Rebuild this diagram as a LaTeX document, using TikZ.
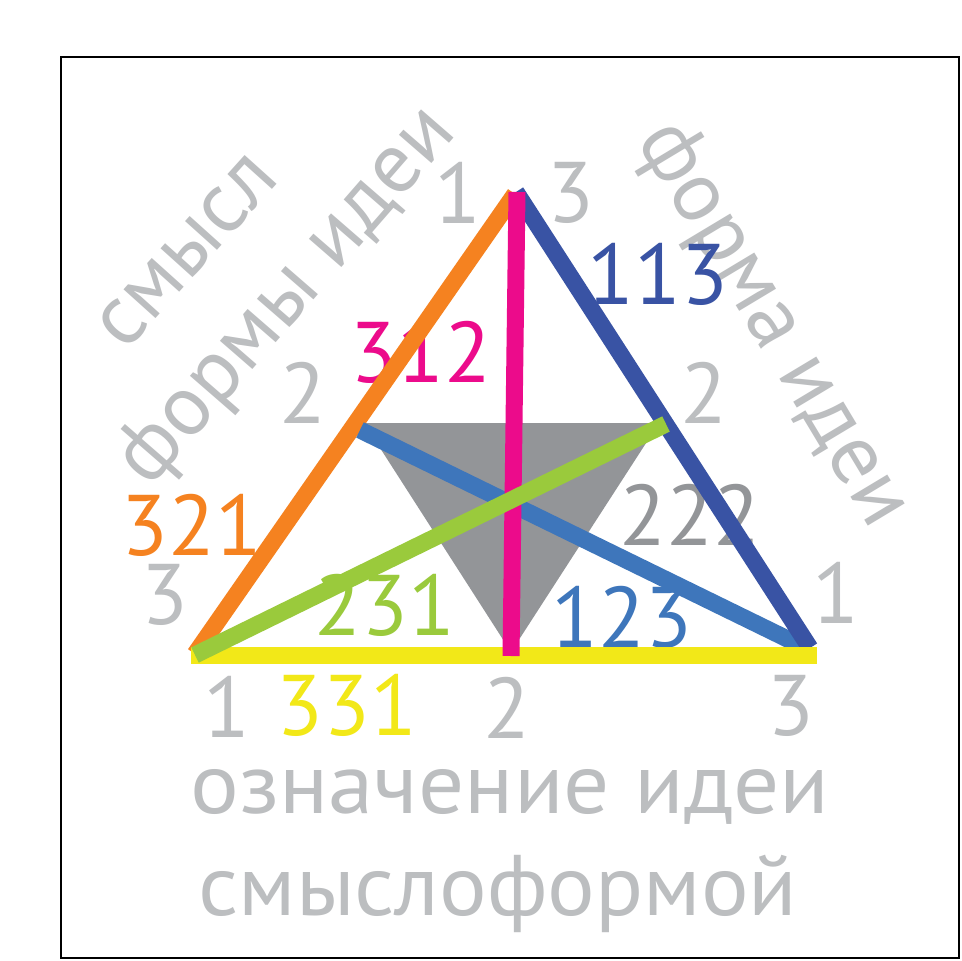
\documentclass[tikz,border=0pt]{standalone}
\usepackage{fontspec}
\setmainfont{PT Sans}
\newfontfamily\widefontA[FakeStretch=1.06]{PT Sans}
\newfontfamily\widefontB[FakeStretch=1.035]{PT Sans}
\definecolor{lgray}{HTML}{BCBEC0}
\definecolor{dgray}{HTML}{939598}
\definecolor{cOrange}{HTML}{F58220}
\definecolor{cDblue}{HTML}{3953A4}
\definecolor{cLblue}{HTML}{3E76BB}
\definecolor{cMag}{HTML}{EC0B8B}
\definecolor{cGreen}{HTML}{9ACA3C}
\definecolor{cYellow}{HTML}{F2E818}
\tikzset{
  big/.style={font=\fontsize{86}{86}\selectfont, inner sep=0pt},
  lab/.style={big, text=lgray, anchor=center},
  seg/.style={line width=17pt, line cap=butt},
  word/.style={big, text=lgray, anchor=base},
  wordA/.style={font=\widefontA\fontsize{86}{86}\selectfont, inner sep=0pt, text=lgray, anchor=base},
  wordB/.style={font=\widefontB\fontsize{86}{86}\selectfont, inner sep=0pt, text=lgray, anchor=base},
}
\begin{document}
\begin{tikzpicture}[x=1pt,y=-1pt]
\useasboundingbox (0,0) rectangle (962,961);
\fill[white] (0,0) rectangle (962,961);
\draw[line width=2pt] (61,57) rectangle (959,958);

% rotated words
\node[word, rotate=48] (w1) at (203,266) {смысл};
\node[word, rotate=49] (w2) at (304,311) {формы идеи};
\node[word, rotate=-59] (w3) at (754,336) {форма идеи};
\node[wordA] (w4) at (510,813) {означение идеи};
\node[wordB] (w5) at (498,915) {смыслоформой};

% vertex labels
\node[lab] (l1) at (458,193) {1};
\node[lab] (l2) at (571,193) {3};
\node[lab] (l3) at (303,393) {2};
\node[lab] (l4) at (704,393) {2};
\node[lab] (l5) at (165,595) {3};
\node[lab] (l6) at (836,593) {1};
\node[lab] (l7) at (227,707) {1};
\node[lab] (l8) at (507,708) {2};
\node[lab] (l9) at (791,706) {3};

% colored labels
\node[big, text=cMag] (c312) at (421,352) {312};
\node[big, text=cDblue] (c113) at (658,274) {113};
\node[big, text=cOrange] (c321) at (192,525) {321};
\node[big, text=dgray] (c222) at (690,515) {222};
\node[big, text=cGreen] (c231) at (385,605) {231};
\node[big, text=cLblue] (c123) at (622,617) {123};
\node[big, text=cYellow] (c331) at (347,705) {331};

% gray triangle
\coordinate (g1) at (364,423);
\coordinate (g2) at (659,423);
\coordinate (g3) at (511,652);
\fill[dgray] (g1) -- (g2) -- (g3) -- cycle;

% segment end points
\coordinate (oA) at (195,654);
\coordinate (oB) at (515,194);
\coordinate (bA) at (516,192);
\coordinate (bB) at (810,648);
\coordinate (lA) at (360,430);
\coordinate (lB) at (810,650);
\coordinate (yA) at (191,655.5);
\coordinate (yB) at (817,655.5);
\coordinate (mA) at (517,192);
\coordinate (mB) at (511,656);
\coordinate (gA) at (195,655);
\coordinate (gB) at (666,424);

\draw[seg, cOrange] (oA) -- (oB);
\draw[seg, cLblue] (lA) -- (lB);
\draw[seg, cDblue] (bA) -- (bB);
\draw[seg, cYellow] (yA) -- (yB);
\draw[seg, cMag] (mA) -- (mB);
\draw[seg, cGreen] (gA) -- (gB);
\end{tikzpicture}
\end{document}
